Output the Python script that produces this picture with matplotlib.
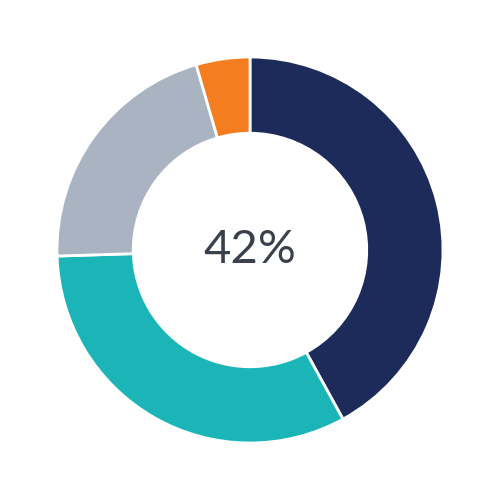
import matplotlib
matplotlib.use("Agg")
import matplotlib.pyplot as plt

labels = ["Navy", "Teal", "Gray", "Orange"]
values = [42, 32.5, 21, 4.5]
colors = ["#1c2b5a", "#1bb5b8", "#a9b3c1", "#f47d20"]
center_text = "42%"

fig = plt.figure(figsize=(5, 5), dpi=100)
ax = fig.add_axes([0, 0, 1, 1])
ax.pie(values, colors=colors, startangle=90, counterclock=False, radius=0.772,
       wedgeprops=dict(width=0.305, edgecolor="white", linewidth=2))
ax.set_xlim(-1, 1)
ax.set_ylim(-1, 1)
ax.set_aspect("equal")
ax.axis("off")
ax.text(0, 0.0, center_text, ha="center", va="center", fontsize=34,
        family="Lato", fontweight="normal", color="#3b414c")
fig.savefig("out.png", dpi=100, facecolor="white")
